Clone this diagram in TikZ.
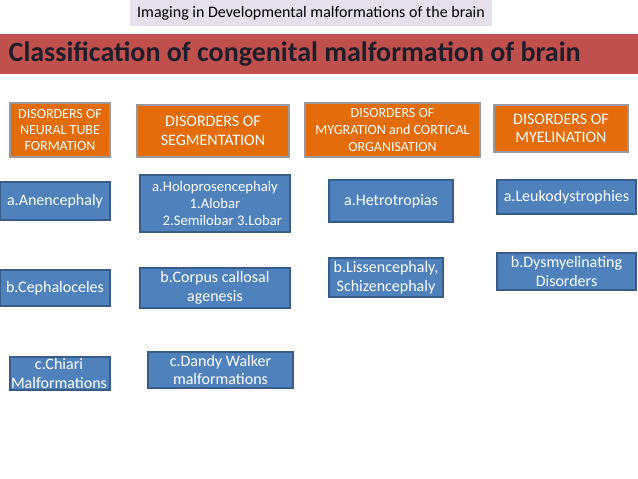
\documentclass[tikz,border=0pt]{standalone}
\usepackage{fontspec}
\setmainfont{Carlito}
\definecolor{orgc}{RGB}{228,108,10}
\definecolor{bluc}{RGB}{79,129,189}
\definecolor{blud}{RGB}{56,93,138}
\definecolor{redc}{RGB}{192,80,77}
\definecolor{lav}{RGB}{230,224,236}
\definecolor{ttlc}{RGB}{30,30,40}
\begin{document}
\begin{tikzpicture}[x=0.75pt,y=-0.75pt,
 org/.style={draw=black!40,line width=0.8pt,fill=orgc,text=white,align=center,inner sep=0pt},
 blu/.style={draw=blud,line width=0.8pt,fill=bluc,text=white,align=center,inner sep=0pt}]
\useasboundingbox (0,0) rectangle (638,478);
\fill[white] (0,0) rectangle (638,478);
\node[fill=lav,minimum width=271.5pt,minimum height=19.5pt,font=\fontsize{12}{14}\selectfont] (top) at (311,13) {Imaging in Developmental malformations of the brain};
\fill[redc] (0,34) rectangle (638,74);
\node[anchor=west,font=\fontsize{21}{24}\selectfont\bfseries,text=ttlc] (ttl) at (4,54) {Classification of congenital malformation of brain};
\tikzset{bx/.style args={#1/#2/#3/#4}{minimum width=(#3-#1)*0.75pt,minimum height=(#4-#2)*0.75pt}}
\node[org,bx=10/103/110/157,font=\fontsize{10.5}{12}\selectfont] (o1) at (60,130) {DISORDERS OF\\NEURAL TUBE\\FORMATION};
\node[org,bx=137/105/289/157,font=\fontsize{12}{14}\selectfont] (o2) at (213,131) {DISORDERS OF\\SEGMENTATION};
\node[org,bx=305/103/480/157,font=\fontsize{10.5}{12.5}\selectfont] (o3) at (392.5,130) {DISORDERS OF\\MYGRATION and CORTICAL\\ORGANISATION};
\node[org,bx=494/105/628/152,font=\fontsize{12}{14}\selectfont] (o4) at (561,128.5) {DISORDERS OF\\MYELINATION};
\node[blu,bx=0/182/110/220,font=\fontsize{12}{14}\selectfont] (a1) at (55,201) {a.Anencephaly};
\node[blu,bx=140/175/290/232,font=\fontsize{11}{12.5}\selectfont] (a2) at (215,203.5) {a.Holoprosencephaly\\1.Alobar\\\quad 2.Semilobar 3.Lobar};
\node[blu,bx=329/180/453/222,font=\fontsize{12}{14}\selectfont] (a3) at (391,201) {a.Hetrotropias};
\node[blu,bx=497/180/636/214,font=\fontsize{12}{14}\selectfont] (a4) at (566.5,197) {a.Leukodystrophies};
\node[blu,bx=0/270/110/306,font=\fontsize{12}{14}\selectfont] (b1) at (55,288) {b.Cephaloceles};
\node[blu,bx=140/268/290/308,font=\fontsize{12}{14.5}\selectfont] (b2) at (215,288) {b.Corpus callosal\\agenesis};
\node[blu,bx=329/258/443/297,font=\fontsize{12}{14}\selectfont] (b3) at (386,277.5) {b.Lissencephaly,\\Schizencephaly};
\node[blu,bx=497/253/636/290,font=\fontsize{12}{14}\selectfont] (b4) at (566.5,271.5) {b.Dysmyelinating\\Disorders};
\node[blu,bx=10/357/110/390] (c1) at (60,373.5) {};
\node[text=white,align=center,inner sep=0pt,font=\fontsize{12}{14.5}\selectfont] (c1t) at (59,373.5) {c.Chiari\\Malformations};
\node[blu,bx=148/352/293/388,font=\fontsize{12}{14}\selectfont] (c2) at (220.5,370) {c.Dandy Walker\\malformations};
\end{tikzpicture}
\end{document}
